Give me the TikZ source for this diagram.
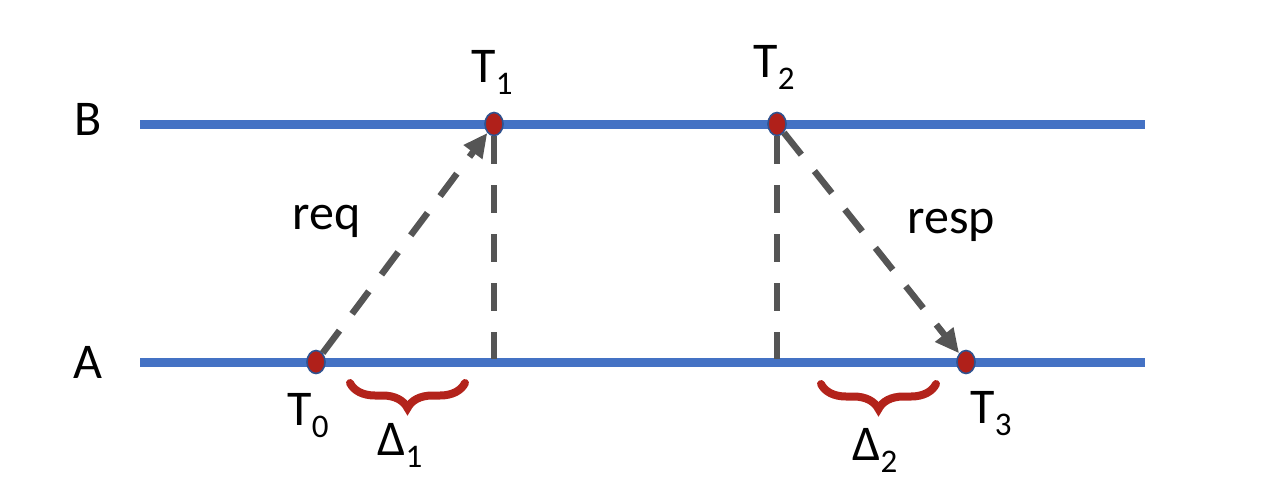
\documentclass[tikz,border=0pt]{standalone}
\usepackage{fontspec}
\setmainfont{Carlito}
\usetikzlibrary{arrows.meta,decorations.pathreplacing,backgrounds,shapes.geometric}
\definecolor{lineblue}{RGB}{68,114,196}
\definecolor{dashgrey}{RGB}{85,85,85}
\definecolor{dotred}{RGB}{176,32,26}
\definecolor{dotedge}{RGB}{47,82,143}
\definecolor{bracered}{RGB}{179,35,27}
\newcommand\lowsub[1]{\raisebox{-6pt}{\fontsize{16.5}{19}\selectfont #1}}
\tikzset{
	timeline/.style={lineblue, line width=4.5pt},
	event/.style={ellipse, draw=dotedge, fill=dotred, line width=0.8pt, minimum width=9pt, minimum height=11.5pt, inner sep=0pt},
	guide/.style={dashgrey, line width=3.25pt, dash pattern=on 14pt off 10.5pt},
	msg/.style={guide, -{Triangle[length=12pt,width=11pt]}},
	lbl/.style={anchor=base west, inner sep=0pt, font=\fontsize{25}{30}\selectfont},
	gap/.style={bracered, line width=4pt, line cap=round, decorate, decoration={brace, amplitude=12.5pt}}
}
\begin{document}
\begin{tikzpicture}[x=0.5pt, y=-0.5pt]
		\useasboundingbox (0,0) rectangle (1278,498);
		% time lines
		\coordinate (Bw) at (140,124);
		\coordinate (Be) at (1145,124);
		\coordinate (Aw) at (140,362);
		\coordinate (Ae) at (1145,362);
		\begin{scope}[on background layer]
			\draw[timeline] (Bw) -- (Be);
			\draw[timeline] (Aw) -- (Ae);
		\end{scope}
		\node[lbl] (labB) at (74,135) {B};
		\node[lbl] (labA) at (73,378) {A};
		% events
		\node[event] (T0) at (316,362) {};
		\node[event] (T1) at (494,124) {};
		\node[event] (T2) at (777,124) {};
		\node[event] (T3) at (966,362) {};
		\node[lbl] (t0) at (287,425) {T\lowsub{0}};
		\node[lbl] (t1) at (471,82) {T\lowsub{1}};
		\node[lbl] (t2) at (753,77) {T\lowsub{2}};
		\node[lbl] (t3) at (970,423) {T\lowsub{3}};
		% messages
		\draw[msg] (T0) -- (T1);
		\draw[msg] (T2) -- (T3);
		\draw[guide, shorten >=1.5pt] (T1) -- (T1 |- Aw);
		\draw[guide, shorten >=1.5pt] (T2) -- (T2 |- Aw);
		\node[lbl] (req) at (292,229) {req};
		\node[lbl] (resp) at (907,233) {resp};
		% offsets
		\draw[gap] (465,383) -- (350,383);
		\draw[gap] (936,384) -- (821,384);
		\node[lbl] (d1) at (377,455) {Δ\lowsub{1}};
		\node[lbl] (d2) at (852,460) {Δ\lowsub{2}};
	\end{tikzpicture}
\end{document}
